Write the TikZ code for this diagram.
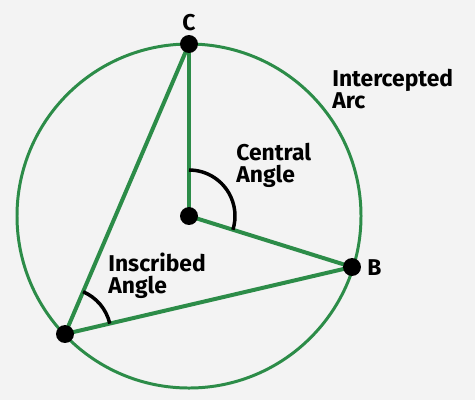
\documentclass[tikz,border=0pt]{standalone}
\usepackage{fontspec}
\setmainfont{Fira Sans}
\definecolor{arcgreen}{RGB}{44,140,72}
\definecolor{paper}{RGB}{243,243,243}
\newlength\pxu
\setlength\pxu{0.5669pt}
\tikzset{
  dot/.style={circle,fill=black,inner sep=0pt,minimum size=18\pxu},
  chord/.style={arcgreen,line width=4\pxu},
  anglemark/.style={black,line width=3.5\pxu},
  lbl/.style={inner sep=0pt,font=\fontsize{13}{12}\selectfont\bfseries,align=left}
}
\begin{document}
\begin{tikzpicture}[x=0.02cm,y=-0.02cm]
\fill[paper] (0,0) rectangle (475,400);
\useasboundingbox (0,0) rectangle (475,400);
\coordinate (O) at (189,216);
\draw[arcgreen,line width=3\pxu] (O) circle (172);
\coordinate (C) at (189,44);
\coordinate (B) at (352,267);
\coordinate (A) at (65,334);
\draw[chord] (O) -- (C);
\draw[chord] (O) -- (B);
\draw[chord] (A) -- (C);
\draw[chord] (A) -- (B);
% y axis points down, so angles run clockwise
\draw[anglemark] ([shift={(-90:46)}]O) arc[start angle=-90,end angle=17.4,radius=46];
\draw[anglemark] ([shift={(-13.1:46)}]A) arc[start angle=-13.1,end angle=-66.8,radius=46];
\node[dot] (dC) at (C) {};
\node[dot] (dB) at (B) {};
\node[dot] (dA) at (A) {};
\node[dot] (dO) at (O) {};
\node[lbl,anchor=base] (labC) at (189,30) {C};
\node[lbl,anchor=base west] (labB) at (367,275) {B};
\node[lbl,anchor=base west] (labArc) at (332,108) {Intercepted\\Arc};
\node[lbl,anchor=base west] (labCen) at (236,182) {Central\\Angle};
\node[lbl,anchor=base west] (labIns) at (108,293) {Inscribed\\Angle};
\end{tikzpicture}
\end{document}
